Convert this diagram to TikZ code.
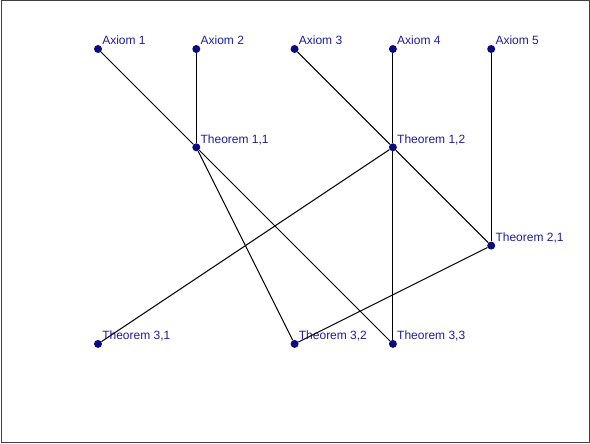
\documentclass[tikz,border=0pt]{standalone}
\usepackage{fontspec}
\setmainfont{Liberation Sans}
\usepackage{tikz}
\usetikzlibrary{positioning}

\definecolor{dotblue}{RGB}{10,10,130}
\definecolor{txtblue}{RGB}{30,30,155}

\begin{document}
\begin{tikzpicture}[
  x=1pt, y=-1pt,
  on grid, node distance=98.3pt,
  dot/.style={circle, fill=dotblue, inner sep=0pt, minimum size=8pt},
  lbl/.style={anchor=base west, inner sep=0pt, label distance=1.6pt, text=txtblue, font=\fontsize{12}{14}\selectfont},
  every edge/.style={draw, line width=1pt}
]
\useasboundingbox (0,0) rectangle (590,444);
\draw[line width=1pt, black!75] (1,1) rectangle (589,442);

% Top row: axioms
\node[dot, label={[lbl]45:Axiom 1}] (AX1) at (98,49) {};
\node[dot, right=of AX1, label={[lbl]45:Axiom 2}] (AX2) {};
\node[dot, right=of AX2, label={[lbl]45:Axiom 3}] (AX3) {};
\node[dot, right=of AX3, label={[lbl]45:Axiom 4}] (AX4) {};
\node[dot, right=of AX4, label={[lbl]45:Axiom 5}] (AX5) {};

% LEVEL 2
\node[dot, below=of AX2, label={[lbl]45:Theorem 1,1}] (TH11) {};
\node[dot, below=of AX4, label={[lbl]45:Theorem 1,2}] (TH12) {};

% LEVEL 3
\node[dot, below=196.6pt of AX5, label={[lbl]45:Theorem 2,1}] (TH21) {};

% LEVEL 4
\node[dot, below=294.9pt of AX1, label={[lbl]45:Theorem 3,1}] (TH31) {};
\node[dot, below=294.9pt of AX3, label={[lbl]45:Theorem 3,2}] (TH32) {};
\node[dot, below=196.6pt of TH12, label={[lbl]45:Theorem 3,3}] (TH33) {};

% Edges
\path (AX1) edge (TH11);
\path (AX2) edge (TH11);
\path (AX3) edge (TH12);
\path (AX4) edge (TH12);
\path (AX5) edge (TH21);
\path (TH12) edge (TH21);
\path (TH11) edge (TH32);
\path (TH11) edge (TH33);
\path (TH12) edge (TH31);
\path (TH12) edge (TH33);
\path (TH21) edge (TH32);

\end{tikzpicture}
\end{document}
